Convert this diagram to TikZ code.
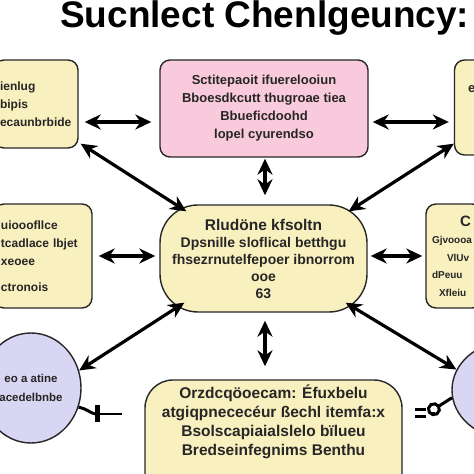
\documentclass[tikz,border=0pt]{standalone}
\usepackage{fontspec}
\setmainfont{Liberation Sans}
\usetikzlibrary{arrows.meta,shapes.geometric,positioning}

\definecolor{paleyellow}{HTML}{F9F0BF}
\definecolor{palepink}{HTML}{F9CADB}
\definecolor{palelilac}{HTML}{D9D6F3}
\definecolor{inkgrey}{HTML}{262626}

\tikzset{
  box/.style={draw=inkgrey, line width=1.4pt, rounded corners=10pt, fill=paleyellow,
    text=inkgrey, inner sep=0pt, font=\fontsize{13}{18}\selectfont\bfseries},
  oval/.style={ellipse, draw=inkgrey, line width=1.4pt, fill=palelilac,
    text=inkgrey, inner sep=0pt, align=center, font=\fontsize{11.5}{19}\selectfont\bfseries},
  link/.style={line width=3.2pt, draw=black,
    {Stealth[length=16pt,width=15pt]}-{Stealth[length=16pt,width=15pt]}},
}

\begin{document}
\begin{tikzpicture}[x=1pt,y=1pt]
  \useasboundingbox (0,0) rectangle (474,474);
  \clip (0,0) rectangle (474,474);

  % title
  \path (60,446) node[anchor=base west, inner sep=0pt, text=black,
    font=\fontsize{37}{37}\selectfont\bfseries] (title) {Sucnlect Chenlgeuncy:};

  % top row
  \path (36,370) node[box, minimum width=84, minimum height=88, text width=72,
    align=left, font=\fontsize{12}{18}\selectfont\bfseries] (tl) {ienlug\\ bipis\\ ecaunbrbide};
  \path (264,365.5) node[box, fill=palepink, minimum width=208, minimum height=97,
    align=center] (pink) {Sctitepaoit ifuerelooiun\\ Bboesdkcutt thugroae tiea\\
    Bbueficdoohd\\ lopel cyurendso};
  \path (507,366.5) node[box, minimum width=105, minimum height=95,
    text width=78, align=left] (tr) {e\\[18pt]\mbox{}};

  % middle row
  \path (43,218) node[box, minimum width=98, minimum height=104, text width=84,
    align=left, font=\fontsize{12}{18}\selectfont\bfseries] (ml)
    {uiooofllce\\ tcadlace lbjet\\ xeoee\\[8pt] ctronois};
  \path (263.5,215.5) node[box, rounded corners=38pt, minimum width=207, minimum height=107,
    align=center, font=\fontsize{14}{17}\selectfont\bfseries] (ctr)
    {{\fontsize{15.5}{17}\selectfont Rludöne kfsoltn}\\ Dpsnille sloflical betthgu\\
    fhsezrnutelfepoer ibnorrom\\ ooe\\ 63};
  \path (454,218) node[box, minimum width=56, minimum height=104, text width=44,
    align=left, font=\fontsize{10}{17.5}\selectfont\bfseries] (mr)
    {\hspace*{28pt}{\fontsize{15}{17}\selectfont C}\\ Gjvoooa\\ \hspace*{15pt}VlUv\\
    dPeuu\\ \hspace*{7pt}Xfleiu};

  % bottom row
  \path (31,86) node[oval, minimum width=100, minimum height=110] (bl) {eo a atine\\ acedelbnbe};
  \path (273.5,24) node[box, rounded corners=28pt, minimum width=257, minimum height=140,
    align=center, font=\fontsize{15.5}{19}\selectfont\bfseries] (bm)
    {Orzdcqöoecam: Éfuxbelu\\ atgiqpnececéur ßechl itemfa:x\\
    Bsolscapiaialslelo bïlueu\\ Bredseinfegnims Benthu\\[40pt]\mbox{}};
  \path (507,84) node[oval, minimum width=110, minimum height=96] (br) {};

  % connectors
  \draw[link] ([shift={(6pt,-18pt)}]tl.east) -- ([shift={(-8pt,-13.5pt)}]pink.west);
  \draw[link] ([shift={(4pt,-13.5pt)}]pink.east) -- ([shift={(-5pt,-14.5pt)}]tr.west);
  \draw[link] ([shift={(1pt,-1pt)}]pink.south) -- ([shift={(1.5pt,9pt)}]ctr.north);
  \draw[link] ([shift={(2pt,5pt)}]tl.south east) -- ([shift={(27pt,-7pt)}]ctr.north west);
  \draw[link] ([shift={(0pt,12pt)}]tr.south west) -- ([shift={(-19pt,-7pt)}]ctr.north east);
  \draw[link] ([shift={(6pt,0pt)}]ml.east) -- ([shift={(-4pt,2.5pt)}]ctr.west);
  \draw[link] ([shift={(3pt,2.5pt)}]ctr.east) -- ([shift={(-3pt,0pt)}]mr.west);
  \draw[link] ([shift={(25pt,10pt)}]ctr.south west) -- (bl.20);
  \draw[link] ([shift={(-22pt,10pt)}]ctr.south east) -- (br.158);
  \draw[link] ([shift={(1.5pt,-8pt)}]ctr.south) -- ([shift={(-8.5pt,13pt)}]bm.north);

  % bar end on the left oval
  \coordinate (barend) at (100,60);
  \coordinate (bartail) at (122,60);
  \draw[line width=3pt, -{Bar[width=17pt,line width=5pt]}] (bl.-22) to[out=-10,in=180] (barend);
  \draw[line width=1.6pt] (barend) -- (bartail);

  % ring end on the right oval
  \coordinate (ringend) at (428,61);
  \draw[line width=3pt, -{Circle[open,length=14pt,width=14pt,line width=3pt]}] (br.-172) -- (ringend);
  \draw[line width=2pt] (435,61) -- +(-6,0);
  \draw[line width=2.2pt] (415,64.5) -- (426,64.5) (415,57.5) -- (426,57.5);
\end{tikzpicture}
\end{document}
